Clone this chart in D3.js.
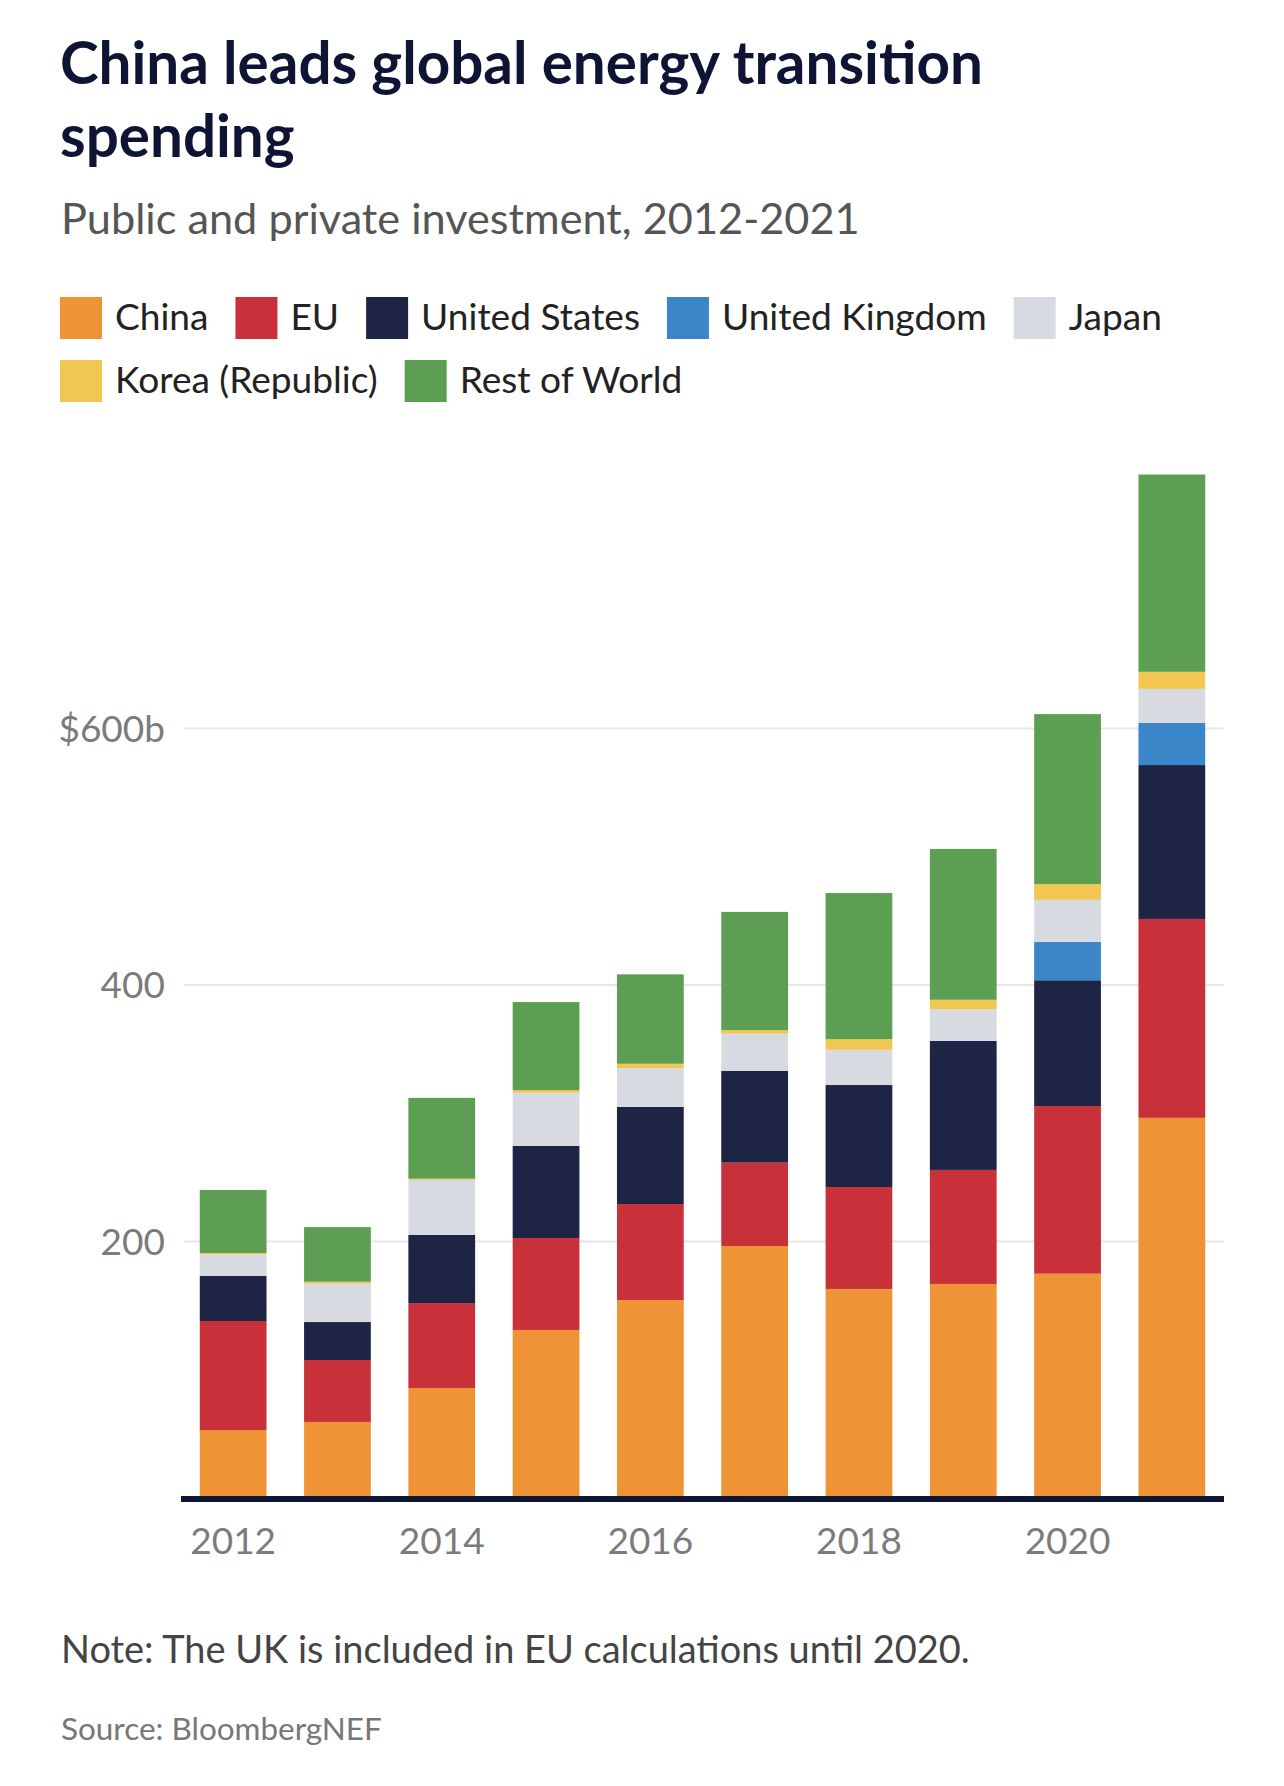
<!DOCTYPE html>
<html>
<head>
<meta charset="utf-8">
<script src="https://cdn.jsdelivr.net/npm/d3@7"></script>
<style>
  body { margin: 0; background: #fff; }
  text { font-family: Lato, "Open Sans", sans-serif; }
</style>
</head>
<body>
<div id="chart"></div>
<script>
// Datos (miles de millones USD)
const years = [2012, 2013, 2014, 2015, 2016, 2017, 2018, 2019, 2020, 2021];
const yearTicks = [2012, 2014, 2016, 2018, 2020];
const valueTicks = [200, 400, 600];

const seriesNames = ["China", "EU", "United States", "United Kingdom", "Japan", "Korea (Republic)", "Rest of World"];
const seriesColors = ["#ee9336", "#c9313a", "#1d2444", "#3a86c9", "#d8dae2", "#f1c751", "#5d9f52"];

const china = [53.0, 59.3, 85.8, 131.0, 154.4, 196.5, 163.0, 166.9, 174.9, 296.4];
const eu    = [85.0, 48.3, 66.2, 71.7, 74.8, 65.0, 79.5, 88.9, 130.7, 155.1];
const us    = [35.1, 29.6, 53.1, 71.8, 75.7, 71.6, 79.5, 100.6, 98.1, 120.0];
const uk    = [0, 0, 0, 0, 0, 0, 0, 0, 30.0, 32.8];
const japan = [16.9, 29.9, 42.9, 41.5, 30.3, 28.9, 27.5, 24.7, 32.7, 26.6];
const korea = [1.0, 1.5, 1.0, 2.0, 3.4, 2.8, 8.3, 7.4, 12.2, 13.3];
const rest  = [49.2, 42.6, 63.0, 68.7, 69.7, 92.2, 113.9, 117.6, 132.6, 153.8];

const seriesValues = [china, eu, us, uk, japan, korea, rest];

const datos = years.map((y, i) => {
    const row = { year: y };
    seriesNames.forEach((n, k) => row[n] = seriesValues[k][i]);
    return row;
});

const W = 1284, H = 1786;
const svg = d3.select("#chart").append("svg")
    .attr("width", W).attr("height", H);

// ajusta el tamaño de fuente para que el texto ocupe un ancho dado
function fitWidth(sel, target, base) {
    sel.style("font-size", base + "px");
    const w = sel.node().getComputedTextLength();
    const fs = base * target / w;
    sel.style("font-size", fs + "px");
    return fs;
}

// Titulo
const t1 = svg.append("text").attr("x", 60).attr("y", 84)
    .attr("fill", "#0e1534").attr("font-weight", 700)
    .text("China leads global energy transition");
const titleSize = fitWidth(t1, 923, 58);
svg.append("text").attr("x", 60).attr("y", 157)
    .attr("fill", "#0e1534").attr("font-weight", 700)
    .style("font-size", titleSize + "px")
    .text("spending");

const sub = svg.append("text").attr("x", 61).attr("y", 234)
    .attr("fill", "#555").text("Public and private investment, 2012-2021");
fitWidth(sub, 799, 42);

// Leyenda: el tamaño sale del ancho de la primera fila
const probe = svg.append("text").text(seriesNames.slice(0, 5).join(""));
const legendSize = fitWidth(probe, 718, 36);
probe.remove();

const legend = svg.append("g");
let lx = 60, row = 0;
const rowY = [318, 381];
seriesNames.forEach((name, k) => {
    const g = legend.append("g");
    const txt = g.append("text")
        .style("font-size", legendSize + "px")
        .attr("fill", "#222")
        .text(name);
    const tw = txt.node().getComputedTextLength();
    if (lx + 55 + tw > 1230) { row++; lx = 60; }
    g.append("rect").attr("x", lx).attr("y", rowY[row] - 21)
        .attr("width", 42).attr("height", 42).attr("fill", seriesColors[k]);
    txt.attr("x", lx + 55).attr("y", rowY[row] + 12);
    lx += 55 + tw + 27;
});

// Escalas
const x = d3.scaleBand().domain(years).range([181, 1224])
    .paddingInner(0.36).paddingOuter(0.18);
const y = d3.scaleLinear().domain([0, 800]).range([1498, 472]);

// Rejilla
svg.append("g").selectAll("line").data(valueTicks).join("line")
    .attr("x1", 184).attr("x2", 1224)
    .attr("y1", d => y(d)).attr("y2", d => y(d))
    .attr("stroke", "#e7e7e7").attr("stroke-width", 2);

svg.append("g").selectAll("text").data(valueTicks).join("text")
    .attr("x", 165).attr("y", d => y(d)).attr("dy", "0.36em")
    .attr("text-anchor", "end").attr("fill", "#7b7b7b")
    .style("font-size", "37px")
    .text(d => d === 600 ? "$600b" : d);

// Barras apiladas
const stack = d3.stack().keys(seriesNames)(datos);
svg.append("g").selectAll("g").data(stack).join("g")
    .attr("fill", (d, i) => seriesColors[i])
    .selectAll("rect").data(d => d).join("rect")
    .attr("x", d => x(d.data.year))
    .attr("width", x.bandwidth())
    .attr("y", d => y(d[1]))
    .attr("height", d => Math.max(0, y(d[0]) - y(d[1])));

// Eje X
svg.append("line").attr("x1", 181).attr("x2", 1224)
    .attr("y1", 1499).attr("y2", 1499)
    .attr("stroke", "#0e1534").attr("stroke-width", 6);

svg.append("g").selectAll("text").data(yearTicks).join("text")
    .attr("x", d => x(d) + x.bandwidth() / 2).attr("y", 1554)
    .attr("text-anchor", "middle").attr("fill", "#7b7b7b")
    .style("font-size", "37px")
    .text(d => d);

// Notas
const note = svg.append("text").attr("x", 61).attr("y", 1663)
    .attr("fill", "#444").text("Note: The UK is included in EU calculations until 2020.");
fitWidth(note, 909, 38);

const src = svg.append("text").attr("x", 61).attr("y", 1740)
    .attr("fill", "#777").text("Source: BloombergNEF");
fitWidth(src, 321, 32);
</script>
</body>
</html>
